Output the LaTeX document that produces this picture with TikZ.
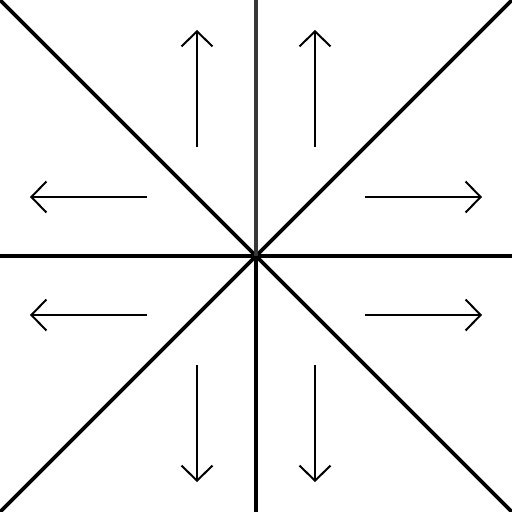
\documentclass[tikz,border=0pt]{standalone}
\usetikzlibrary{arrows.meta}
\begin{document}
\begin{tikzpicture}[x=1pt,y=-1pt,
  mainline/.style={line width=3.8pt},
  flow/.style={line width=2pt,-{Straight Barb[length=15pt,width=31pt,line width=2pt]}}]
\useasboundingbox (0,0) rectangle (512,512);
\clip (0,0) rectangle (512,512);
\coordinate (c) at (256,256);
\coordinate (tl) at (0,0);
\coordinate (tr) at (512,0);
\coordinate (bl) at (0,512);
\coordinate (br) at (512,512);
\coordinate (t) at (256,0);
\coordinate (b) at (256,512);
\coordinate (l) at (0,256);
\coordinate (r) at (512,256);
\draw[mainline] (tl) -- (br);
\draw[mainline] (tr) -- (bl);
\draw[mainline] (l) -- (r);
\draw[mainline,color=black!78] (t) -- (c);
\draw[mainline] (c) -- (b);
% arrows
\coordinate (u1s) at (197,147); \coordinate (u1e) at (197,30);
\coordinate (u2s) at (315,147); \coordinate (u2e) at (315,30);
\coordinate (d1s) at (197,365); \coordinate (d1e) at (197,482);
\coordinate (d2s) at (315,365); \coordinate (d2e) at (315,482);
\coordinate (l1s) at (147,197); \coordinate (l1e) at (30,197);
\coordinate (l2s) at (147,315); \coordinate (l2e) at (30,315);
\coordinate (r1s) at (365,197); \coordinate (r1e) at (482,197);
\coordinate (r2s) at (365,315); \coordinate (r2e) at (482,315);
\foreach \a in {u1,u2,d1,d2,l1,l2,r1,r2}
  \draw[flow] (\a s) -- (\a e);
\end{tikzpicture}
\end{document}
